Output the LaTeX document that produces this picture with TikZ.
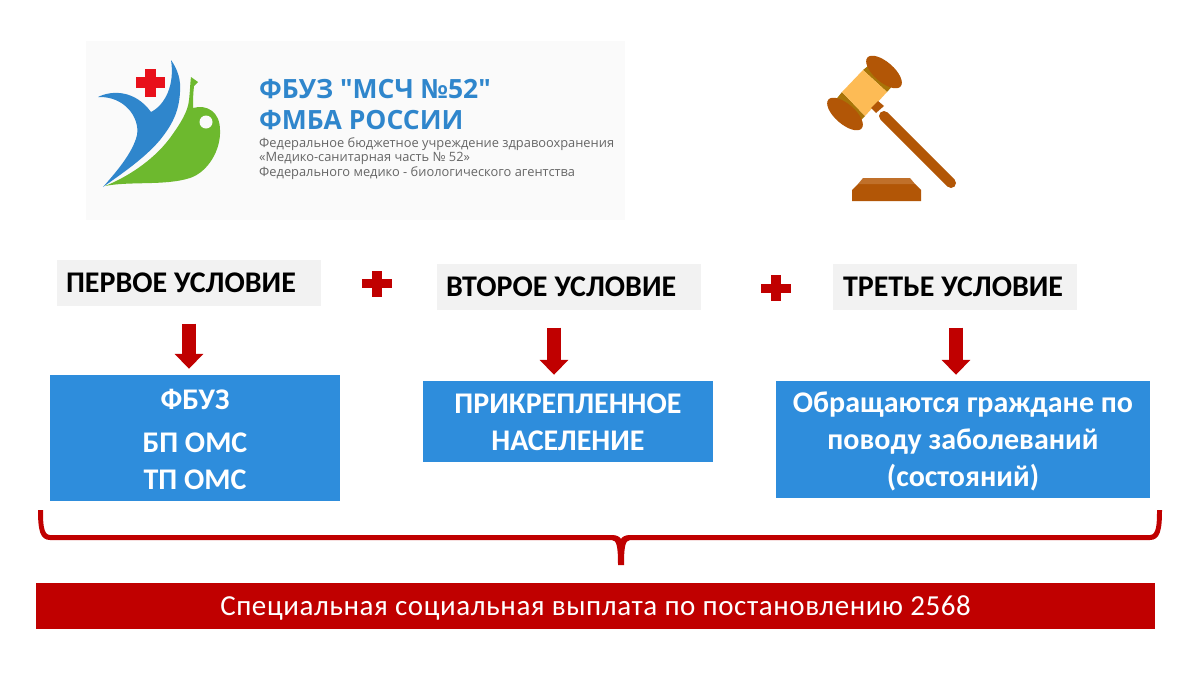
\documentclass[tikz,border=0pt]{standalone}
\usepackage{fontspec}
\setmainfont{Carlito}
\newfontfamily\logofont{Open Sans}
\usetikzlibrary{arrows.meta}
\definecolor{bluebox}{HTML}{2E8DDC}
\definecolor{redc}{HTML}{C00000}
\definecolor{greyb}{HTML}{F2F2F2}
\definecolor{logobg}{HTML}{FAFAFA}
\definecolor{logoblue}{HTML}{2F86CC}
\definecolor{logogreen}{HTML}{6DB92E}
\definecolor{logotxt}{HTML}{666666}
\definecolor{logored}{HTML}{E8101A}
\definecolor{gbrown}{HTML}{B25606}
\definecolor{gbrownl}{HTML}{C0702A}
\definecolor{golive}{HTML}{A87408}
\definecolor{gyellow}{HTML}{FDBB55}
\tikzset{
  x=1pt,y=-1pt,
  condbox/.style={fill=greyb,minimum height=46pt,inner sep=0pt,font=\bfseries\fontsize{30}{32}\selectfont,text=black,align=left},
  bluerect/.style={fill=bluebox,inner sep=0pt},
  bluetext/.style={inner sep=0pt,text=white,font=\bfseries\fontsize{30}{37}\selectfont,align=center},
  downarrow/.style={redc,line width=14pt,-{Triangle[length=15pt,width=28pt]},shorten <=17.5pt,shorten >=6pt},
  logohead/.style={anchor=west,inner sep=0pt,text=logoblue,font=\logofont\bfseries\fontsize{26.5}{26.5}\selectfont},
  logosmall/.style={anchor=west,inner sep=0pt,text=logotxt,font=\logofont\fontsize{12.85}{12.85}\selectfont},
}
\newcommand{\plussign}[2]{%
  \fill[redc] (#1-15,#2-4.5) rectangle (#1+15,#2+4.5);
  \fill[redc] (#1-5,#2-13) rectangle (#1+5,#2+13);}
\begin{document}
\begin{tikzpicture}
\useasboundingbox (0,0) rectangle (1200,675);
\fill[white] (0,0) rectangle (1200,675);
% logo
\fill[logobg] (86,41) rectangle (625,220);
\fill[logoblue] (171,60) .. controls (178,70) and (181,80) .. (180,92)
  .. controls (179,112) and (172,125) .. (160,140)
  .. controls (145,158) and (120,175) .. (103,187)
  .. controls (118,170) and (133,152) .. (137,135)
  .. controls (140,118) and (125,96) .. (98,97)
  .. controls (112,90) and (135,90) .. (151,112)
  .. controls (165,105) and (175,85) .. (171,60) -- cycle;
\fill[logogreen] (191,77) -- (198,82) -- (194,86) .. controls (193,95) and (193,102) .. (193,108)
  .. controls (207,104) and (220,112) .. (220,130)
  .. controls (221,150) and (208,172) .. (190,178)
  .. controls (165,186) and (130,181) .. (105,186)
  .. controls (125,178) and (152,162) .. (170,138)
  .. controls (180,124) and (188,112) .. (189,100)
  .. controls (190,92) and (190,85) .. (191,77) -- cycle;
\fill[logobg] (206,122) circle (6.5);
\fill[logored] (145,69) rectangle (156,97);
\fill[logored] (136,77) rectangle (165,88);
\node[logohead] (logoa) at (259,89) {ФБУЗ "МСЧ №52"};
\node[logohead] (logob) at (259,120) {ФМБА РОССИИ};
\node[logosmall] (logoc) at (259,144) {Федеральное бюджетное учреждение здравоохранения};
\node[logosmall] (logod) at (259,158.5) {«Медико-санитарная часть № 52»};
\node[logosmall] (logoe) at (259,173) {Федерального медико - биологического агентства};
% gavel
\fill[gbrown] (852,201) -- (852,190) -- (858,184) -- (915,184) -- (921,190) -- (921,201) -- cycle;
\fill[gbrownl] (858,184) -- (863,178) -- (910,178) -- (915,184) -- cycle;
\draw[gbrown,line width=10pt,line cap=round] (884,116) -- (951,183);
\fill[golive] (834,102) -- (857,124) -- (865,116) -- (842,92) -- cycle;
\fill[golive] (873,62) -- (895,83) -- (887,92) -- (863,70) -- cycle;
\fill[gyellow] (842,92) -- (863,70) -- (887,92) -- (865,116) -- cycle;
\fill[gbrown,rotate around={-41:(845,114)}] (845,114) ellipse [x radius=22,y radius=10];
\fill[gbrown,rotate around={-41:(884,72)}] (884,72) ellipse [x radius=22,y radius=10];
\fill[gbrown] (871,108) -- (878,101) -- (884,106) -- (876,113) -- cycle;
% condition labels
\node[condbox,minimum width=264pt,text width=246pt] (c1) at (189,283) {\raisebox{-1pt}{ПЕРВОЕ\hspace{-3pt} УСЛОВИЕ}};
\node[condbox,minimum width=264pt,text width=246pt] (c2) at (569,287) {\raisebox{-1pt}{ВТОРОЕ\hspace{-3pt} УСЛОВИЕ}};
\node[condbox,minimum width=244pt,text width=224pt] (c3) at (955,287) {\raisebox{-1pt}{ТРЕТЬЕ\hspace{-3pt} УСЛОВИЕ}};
\plussign{376.5}{283.5}
\plussign{775.5}{288}
% blue boxes
\node[bluerect,minimum width=290pt,minimum height=126pt] (b1) at (195,438) {};
\node[bluetext] (b1t) at (195,399) {ФБУЗ};
\node[bluetext] (b1u) at (195,461) {БП ОМС\\ТП ОМС};
\node[bluerect,minimum width=290pt,minimum height=81pt] (b2) at (568,421.5) {};
\node[bluetext] (b2t) at (568,422.5) {ПРИКРЕПЛЕННОЕ\\НАСЕЛЕНИЕ};
\node[bluerect,minimum width=374pt,minimum height=117pt] (b3) at (963,439.5) {};
\node[bluetext] (b3t) at (963,441) {Обращаются граждане по\\поводу заболеваний\\(состояний)};
\draw[downarrow] (c1.south) -- (c1.south |- b1.north);
\draw[downarrow] ([xshift=-15pt]c2.south) -- ([xshift=-15pt]c2.south |- b2.north);
\draw[downarrow] ([xshift=1pt]c3.south) -- ([xshift=1pt]c3.south |- b3.north);
% brace
\fill[redc] (38,510) -- (43,510) .. controls (43,522) and (43,535) .. (50,535)
  -- (612,535) .. controls (617,535) and (620,537) .. (621,539)
  .. controls (622,537) and (625,535) .. (630,535)
  -- (1150,535) .. controls (1157,535) and (1157,522) .. (1157,510) -- (1162,510)
  .. controls (1162,530) and (1160,540) .. (1150,540)
  -- (630,540) .. controls (625,540) and (624,548) .. (624,565)
  -- (618,565) .. controls (618,548) and (617,540) .. (612,540)
  -- (50,540) .. controls (40,540) and (38,530) .. (38,510) -- cycle;
% bottom bar
\node[fill=redc,minimum width=1119pt,minimum height=46pt,inner sep=0pt] (bar) at (595.5,606) {};
\node[text=white,inner sep=0pt,font=\fontsize{29}{30}\selectfont] (bart) at (595.5,607.5) {\addfontfeature{LetterSpace=2}Специальная социальная выплата по постановлению 2568};
\end{tikzpicture}
\end{document}
